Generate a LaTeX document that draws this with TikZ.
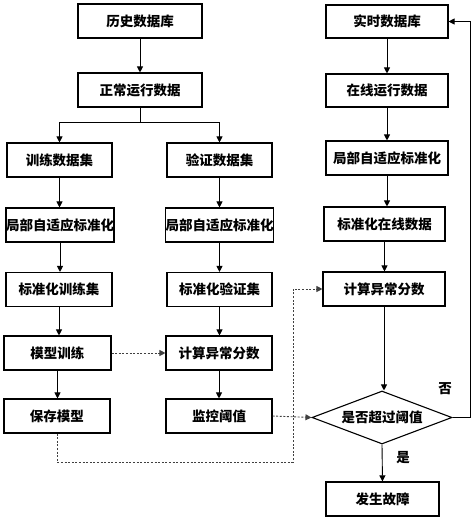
\documentclass[tikz,border=0pt]{standalone}
\usepackage{fontspec}
\setmainfont{Noto Sans CJK SC}
\usetikzlibrary{arrows.meta,shapes.geometric}
\begin{document}
\begin{tikzpicture}[x=1pt,y=-1pt,
  box/.style={draw, line width=1.1pt, minimum width=106pt, minimum height=34pt, inner sep=0pt, font=\fontsize{13.5}{15}\selectfont\bfseries},
  arr/.style={line width=0.9pt, -{Triangle[length=6pt,width=6pt]}},
  darr/.style={line width=0.9pt, dash pattern=on 2pt off 1.6pt, draw=black!75, -{Triangle[length=6pt,width=6pt]}},
  dline/.style={line width=0.9pt, dash pattern=on 2pt off 1.6pt, draw=black!75},
  lbl/.style={font=\fontsize{13.5}{15}\selectfont\bfseries, inner sep=0pt}]
\useasboundingbox (0,0) rectangle (474,520);
% left and middle columns
\node[box, minimum width=124pt] (h1) at (140,21) {历史数据库};
\node[box, minimum width=124pt] (h2) at (140,90) {正常运行数据};
\node[box, minimum width=105pt] (t1) at (59.5,160) {训练数据集};
\node[box, minimum width=105pt] (v1) at (219.5,160) {验证数据集};
\node[box] (t2) at (60,225) {局部自适应标准化};
\node[box, minimum width=105pt] (v2) at (219.5,225) {局部自适应标准化};
\node[box] (t3) at (59,289.5) {标准化训练集};
\node[box, minimum width=105pt] (v3) at (219.5,289.5) {标准化验证集};
\node[box, minimum width=107pt] (t4) at (57.5,353) {模型训练};
\node[box] (v4) at (219,353) {计算异常分数};
\node[box] (t5) at (57,416) {保存模型};
\node[box] (v5) at (219,416) {监控阈值};
% right column
\node[box, minimum width=122pt, minimum height=33pt] (r1) at (387,21.5) {实时数据库};
\node[box, minimum width=122pt, minimum height=33pt] (r2) at (387,90.5) {在线运行数据};
\node[box, minimum width=122pt] (r3) at (387,158) {局部自适应标准化};
\node[box, minimum width=121pt] (r4) at (384.5,224) {标准化在线数据};
\node[box, minimum width=122pt] (r5) at (384,289) {计算异常分数};
\node[draw, line width=1.1pt, diamond, aspect=2.64, minimum width=140pt, minimum height=53pt, inner sep=0pt, font=\fontsize{13.5}{15}\selectfont\bfseries] (d) at (382,417.5) {是否超过阈值};
\node[box, minimum width=113pt] (f) at (382.5,499) {发生故障};
\node[lbl] (no) at (445,389) {否};
\node[lbl] (yes) at (403,458) {是};
\coordinate (c1) at (293,462);
\coordinate (c2) at (470,417.5);
\coordinate (b1) at (140,122);
% solid arrows
\draw[arr] (h1) -- (h2);
\draw[line width=0.9pt] (h2.south) -- (b1);
\draw[arr] (b1) -| (t1.north);
\draw[arr] (b1) -| (v1.north);
\draw[arr] (t1.south) -- (t1.south |- t2.north);
\draw[arr] (t2.south) -- (t2.south |- t3.north);
\draw[arr] (t3.south) -- (t3.south |- t4.north);
\draw[arr] (t4.south) -- (t4.south |- t5.north);
\draw[arr] (v1.south) -- (v1.south |- v2.north);
\draw[arr] (v2.south) -- (v2.south |- v3.north);
\draw[arr] (v3.south) -- (v3.south |- v4.north);
\draw[arr] (v4.south) -- (v4.south |- v5.north);
\draw[arr] (r1.south) -- (r1.south |- r2.north);
\draw[arr] (r2.south) -- (r2.south |- r3.north);
\draw[arr] (r3.south) -- (r3.south |- r4.north);
\draw[arr] (r4.south) -- (r4.south |- r5.north);
\draw[arr] (r5.south) -- (r5.south |- d.north);
\draw[arr] (d.south) -- (f.north);
\draw[arr] (d.east) -- (c2) |- (r1.east);
% dashed
\draw[darr] (t4.east) -- (v4.west);
\draw[darr] (v5.east) -- (d.west);
\draw[darr] (t5.south) |- (c1) |- (r5.west);
\end{tikzpicture}
\end{document}
